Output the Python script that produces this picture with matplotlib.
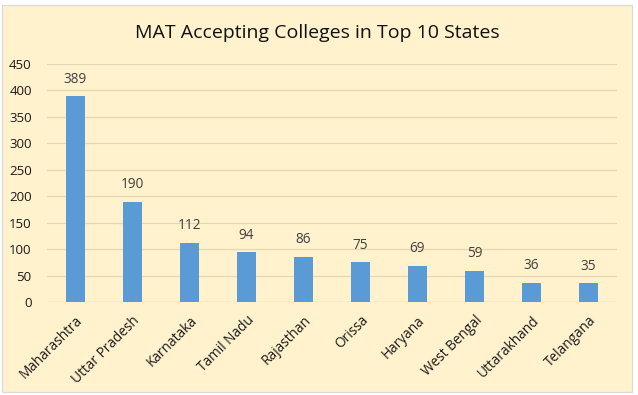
import matplotlib
matplotlib.use("Agg")
import matplotlib.pyplot as plt
from matplotlib.patches import Rectangle

states = ["Maharashtra", "Uttar Pradesh", "Karnataka", "Tamil Nadu", "Rajasthan",
          "Orissa", "Haryana", "West Bengal", "Uttarakhand", "Telangana"]
colleges = [389, 190, 112, 94, 86, 75, 69, 59, 36, 35]
yticks = [0, 50, 100, 150, 200, 250, 300, 350, 400, 450]
title = "MAT Accepting Colleges in Top 10 States"

plt.rcParams['font.family'] = ['Open Sans', 'DejaVu Sans']

bg = "#FFF2CC"
fig = plt.figure(figsize=(6.38, 3.95), dpi=100, facecolor="white")
fig.patches.append(Rectangle((2/638, 3/395), 630/638, 387/395, transform=fig.transFigure,
                             facecolor=bg, edgecolor="#D9D9D9", linewidth=0.8, zorder=-5))

ax = fig.add_axes([47/638, 1 - 302/395, 570/638, (302-64)/395])
ax.set_zorder(1)
ax.set_facecolor("none")
x = list(range(len(states)))
ax.bar(x, colleges, width=0.32, color="#5B9BD5", zorder=3)
for xi, v in zip(x, colleges):
    ax.annotate(str(v), (xi, v), xytext=(0, 7), textcoords="offset points",
                ha="center", va="bottom", fontsize=9.8, color="#404040")

ax.set_xlim(-0.5, len(states) - 0.5)
ax.set_ylim(0, 450)
ax.set_yticks(yticks)
ax.set_yticklabels([str(t) for t in yticks], fontsize=9.5, color="#1a1a1a")
ax.set_xticks(x)
ax.set_xticklabels(states, rotation=45, ha="right", rotation_mode="anchor",
                   fontsize=9.8, color="#1a1a1a")
ax.tick_params(axis="both", length=0)
ax.tick_params(axis="y", pad=11)
ax.tick_params(axis="x", pad=8)
ax.grid(axis="y", color="#E3D7B5", linewidth=0.9, zorder=0)
for s in ax.spines.values():
    s.set_visible(False)
ax.axhline(0, color="#D9CDAE", linewidth=0.9, zorder=1)

fig.text(317/638, 1 - 33/395, title, ha="center", va="center", fontsize=14, color="#111111")

fig.savefig("out.png", dpi=100, facecolor="white")
